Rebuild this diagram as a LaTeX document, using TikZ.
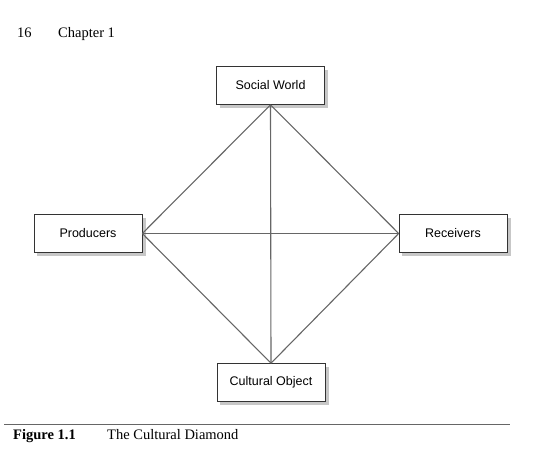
\documentclass[tikz,border=0pt]{standalone}
\usepackage{fontspec}
\setmainfont{Liberation Serif}
\newfontfamily\boxfont{Liberation Sans}
\usepackage{tikz}
\usetikzlibrary{backgrounds}

\begin{document}
\begin{tikzpicture}[x=1pt,y=-1pt,
  corner/.style={draw=black!80,line width=0.6pt,fill=white,minimum width=108pt,minimum height=38pt,inner sep=0pt,
    font=\boxfont\fontsize{12.5}{14}\selectfont},
  shade/.style={fill=black!22,draw=none},
  link/.style={draw=black!60,line width=1.1pt},
  page/.style={inner sep=0pt,anchor=base west,font=\fontsize{14.5}{16}\selectfont}]
\useasboundingbox (0,0) rectangle (542,462);
\node[page] (pnum) at (17,38) {16};
\node[page] (chap) at (58,38) {Chapter 1};
\node[corner] (sw) at (270.5,85.5) {Social World};
\node[corner] (pr) at (88,233.5) {Producers};
\node[corner] (re) at (453,233.5) {Receivers};
\node[corner] (co) at (271,382.5) {Cultural Object};
\begin{scope}[on background layer]
\foreach \b in {sw,pr,re,co}
  \fill[shade] ([shift={(3.5,3.5)}]\b.south west) rectangle ([shift={(3.5,3.5)}]\b.north east);
\end{scope}
\draw[link] (sw.south) -- (pr.east);
\draw[link] (sw.south) -- (re.west);
\draw[link] (co.north) -- (pr.east);
\draw[link] (co.north) -- (re.west);
\draw[link] (sw.south) -- (co.north);
\draw[link] (pr.east) -- (re.west);
\coordinate (rl) at (4,424);
\coordinate (rr) at (510,424);
\draw[draw=black!60,line width=0.9pt] (rl) -- (rr);
\node[page,font=\bfseries\fontsize{14.5}{16}\selectfont] (fig) at (13,440) {Figure 1.1};
\node[page] (cap) at (107,440) {The Cultural Diamond};
\end{tikzpicture}
\end{document}
